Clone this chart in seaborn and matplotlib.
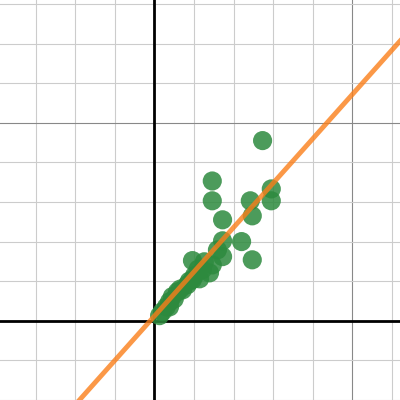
import numpy as np
import pandas as pd
import matplotlib.pyplot as plt
import seaborn as sns

# scatter data
x_vals = [2.73, 1.46, 1.46, 2.95, 2.95, 2.42, 2.47, 1.72, 1.72, 2.20, 2.47, 1.72, 1.59,
          0.96, 1.46, 1.39, 1.21, 1.01, 0.96, 0.83, 0.71, 0.58, 0.45, 0.38, 0.30, 0.20,
          0.13, 0.38, 1.14, 1.26, 1.10, 0.88, 0.65, 0.50]
y_vals = [4.55, 3.53, 3.03, 3.33, 3.03, 3.03, 2.65, 2.55, 2.02, 2.00, 1.54, 1.62, 1.79,
          1.52, 1.41, 1.21, 1.29, 1.14, 1.04, 0.91, 0.78, 0.73, 0.61, 0.48, 0.35, 0.23,
          0.13, 0.35, 1.06, 1.49, 1.30, 1.00, 0.80, 0.55]

# regression line
slope = 1.12
intercept = 0.12
line_x = [-4.0, 6.2]

x_min, x_max = -3.9, 6.2
y_min, y_max = -2.0, 8.1

pts = pd.DataFrame({"x": x_vals, "y": y_vals})
line = pd.DataFrame({"x": line_x, "y": [slope * v + intercept for v in line_x]})

fig = plt.figure(figsize=(4, 4), dpi=100)
ax = fig.add_axes([0, 0, 1, 1])
ax.set_xlim(x_min, x_max)
ax.set_ylim(y_min, y_max)

for v in range(-4, 7):
    ax.axvline(v, color="#cccccc" if v % 5 else "#888888", lw=0.8, zorder=0)
for v in range(-2, 9):
    ax.axhline(v, color="#cccccc" if v % 5 else "#888888", lw=0.8, zorder=0)
ax.axvline(0, color="black", lw=2, zorder=1)
ax.axhline(0, color="black", lw=2, zorder=1)

sns.scatterplot(data=pts, x="x", y="y", ax=ax, s=190, color="#2d8a3e",
                alpha=0.85, edgecolor="none", zorder=3)
sns.lineplot(data=line, x="x", y="y", ax=ax, color="#fa7e19", lw=3.5,
             alpha=0.8, zorder=4)

ax.set_axis_off()
fig.savefig("out.png", dpi=100)
